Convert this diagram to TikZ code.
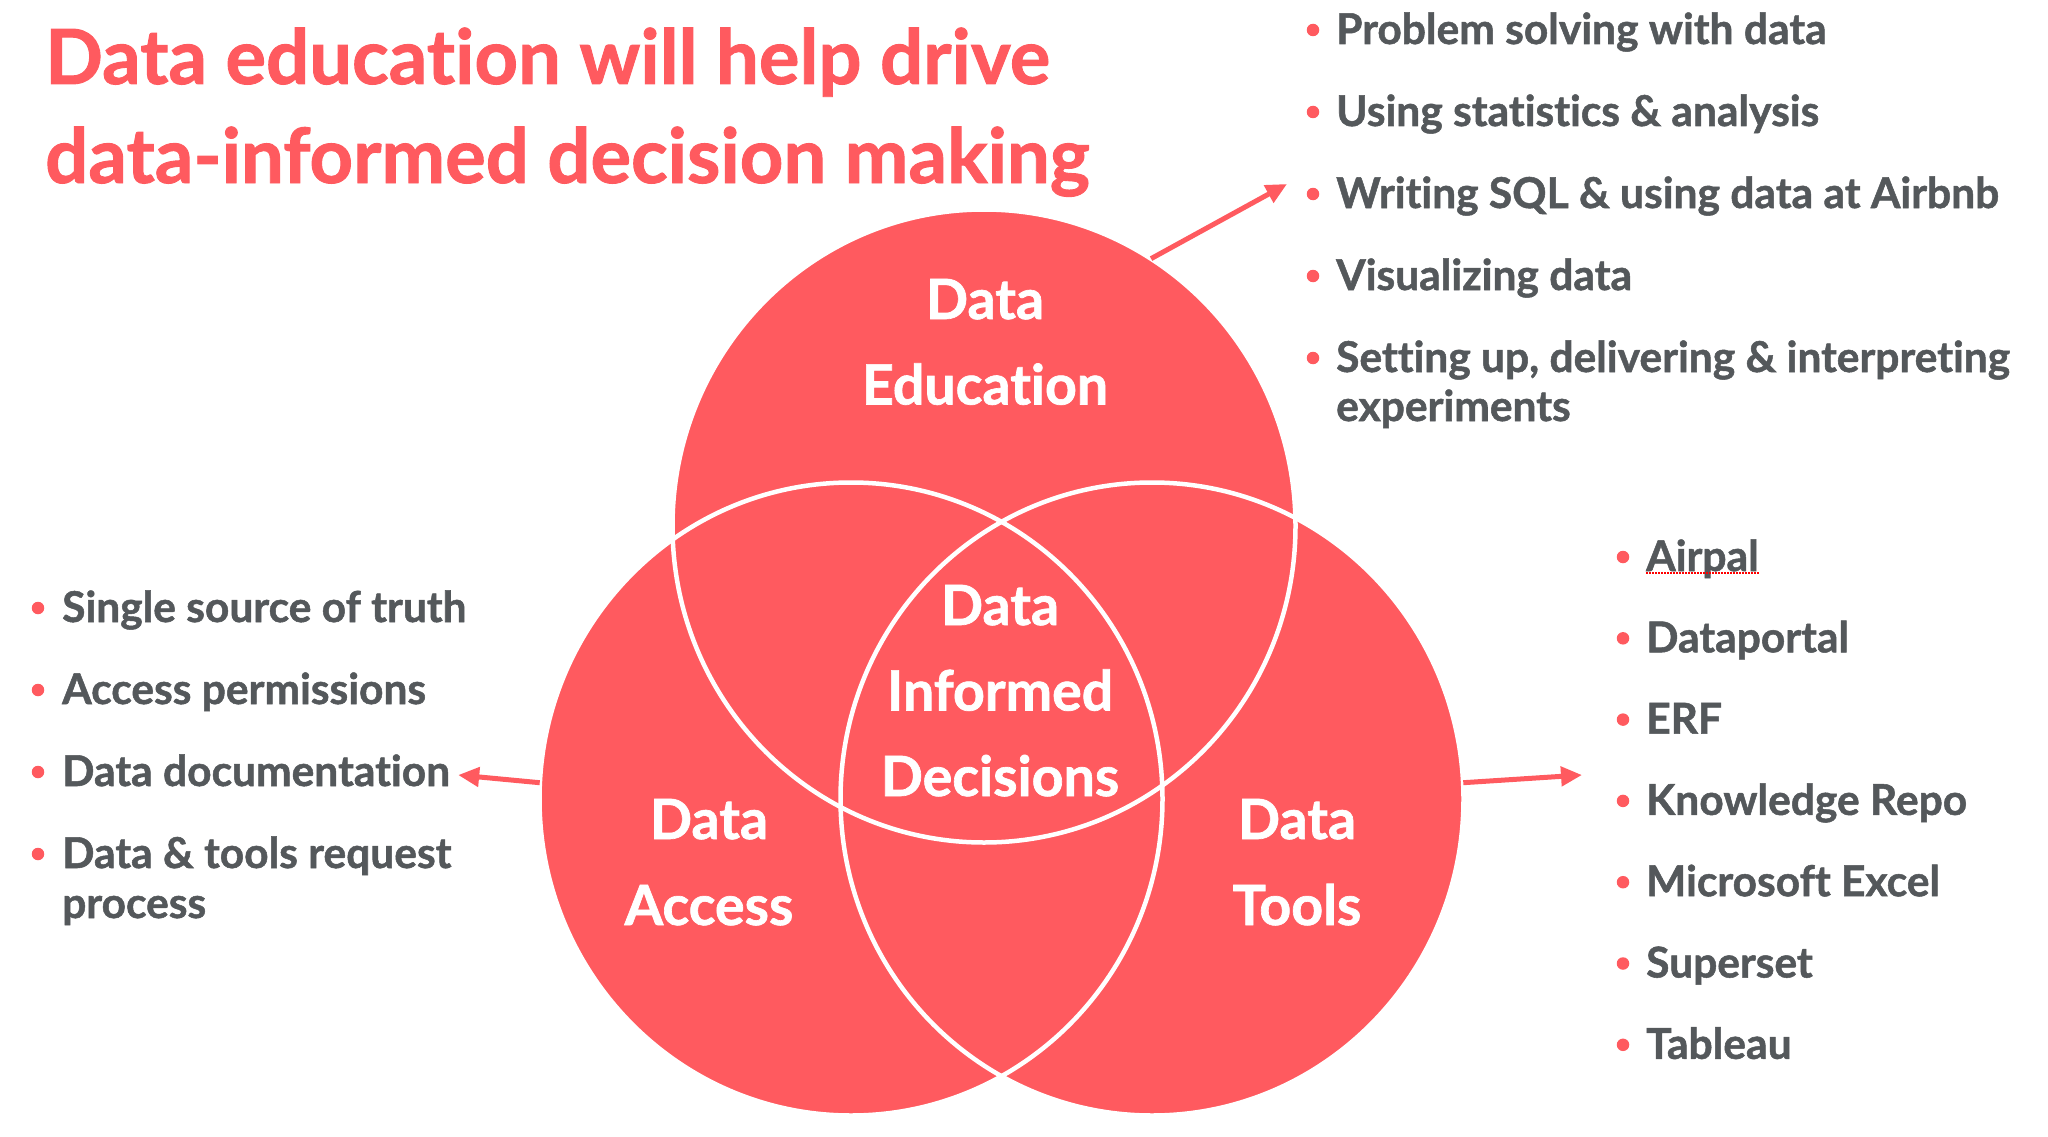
\documentclass[tikz,border=0pt]{standalone}
\usepackage{fontspec}
\setmainfont{Lato}[Ligatures=NoCommon,BoldFeatures={FakeBold=1.2}]
\usetikzlibrary{arrows.meta,positioning,shapes.geometric}
\definecolor{rausch}{HTML}{FF5A5F}
\definecolor{slate}{HTML}{54585B}
\begin{document}
\begin{tikzpicture}[x=1pt,y=-1pt,
     venn/.style={ellipse,fill=rausch,inner sep=0pt,minimum width=623pt,minimum height=633pt},
     bul/.style={circle,fill=rausch,inner sep=0pt,minimum size=12.5pt},
     item/.style={anchor=base west,inner sep=0pt,text=slate,font=\fontsize{42.5}{50}\selectfont\bfseries},
     lbl/.style={anchor=base,inner sep=0pt,text=white,font=\fontsize{55.5}{60}\selectfont\bfseries},
     ttl/.style={anchor=base west,inner sep=0pt,text=rausch,font=\fontsize{76}{90}\selectfont\bfseries},
     arr/.style={rausch,line width=5pt,-{Triangle[length=21pt,width=19pt]}}
     ]
\useasboundingbox (0,0) rectangle (2048,1137);

%Radii of the three circles
\def \rx{311.5pt}
\def \ry{316.5pt}

%Line spacing of the lists
\def \gap{82}

%The three circles
\node[venn] (edu) at (984,526) {};
\node[venn] (acc) at (851,799) {};
\node[venn] (tls) at (1152,799) {};
\foreach \c in {edu,acc,tls}
   \draw[white,line width=4.5pt] (\c.center) ellipse [x radius=\rx, y radius=\ry];

%Title
\node[ttl] (title1) at (45,84) {Data education will help drive};
\node[ttl] (title2) at ([yshift=-99pt]title1.base west) {data-informed decision making};

%Labels inside the circles
\node[lbl] (edu1) at (985,319) {Data};
\node[lbl] (edu2) at ([yshift=-85.5pt]edu1.base) {Education};
\node[lbl] (mid1) at (1000,625) {Data};
\node[lbl] (mid2) at ([yshift=-85.5pt]mid1.base) {Informed};
\node[lbl] (mid3) at ([yshift=-85.5pt]mid2.base) {Decisions};
\node[lbl] (acc1) at (709,839) {Data};
\node[lbl] (acc2) at ([yshift=-86pt]acc1.base) {Access};
\node[lbl] (tls1) at (1297,839) {Data};
\node[lbl] (tls2) at ([yshift=-86pt]tls1.base) {Tools};

%Education list
\foreach [count=\i] \t in {Problem solving with data,Using statistics \& analysis,
      Writing SQL \& using data at Airbnb,Visualizing data,
      {Setting up, delivering \& interpreting}}
   {
   \pgfmathsetmacro{\yy}{44+(\i-1)*\gap}
   \node[bul] (eb\i) at (1313,\yy-14) {};
   \node[item] (et\i) at (1336,\yy) {\t};
   }
\node[item] (et6) at ([yshift=-49pt]et5.base west) {experiments};

%Access list
\foreach [count=\i] \t in {Single source of truth,Access permissions,
      Data documentation,Data \& tools request}
   {
   \pgfmathsetmacro{\yy}{622+(\i-1)*\gap}
   \node[bul] (ab\i) at (38,\yy-14) {};
   \node[item] (at\i) at (62,\yy) {\t};
   }
\node[item] (at5) at ([yshift=-50pt]at4.base west) {process};

%Tools list
\foreach [count=\i] \t in {Airpal,Dataportal,ERF,Knowledge Repo,
      Microsoft Excel,Superset,Tableau}
   {
   \pgfmathsetmacro{\yy}{571+(\i-1)*81.3}
   \node[bul] (tb\i) at (1623,\yy-14) {};
   \node[item] (tt\i) at (1646,\yy) {\t};
   }
\draw[red,line width=1.5pt,dash pattern=on 1.5pt off 1.5pt]
   ([yshift=-2pt]tt1.base west) -- ([yshift=-2pt]tt1.base east);

%Arrows from the circles to the lists
\coordinate (tlsTip) at (1582,775);
\draw[arr] (edu.58) -- ([xshift=-26pt,yshift=10pt]eb3.center);
\draw[arr] (acc.177) -- ([xshift=8pt,yshift=11pt]at3.base east);
\draw[arr] (tls.3) -- (tlsTip);
\end{tikzpicture}
\end{document}
